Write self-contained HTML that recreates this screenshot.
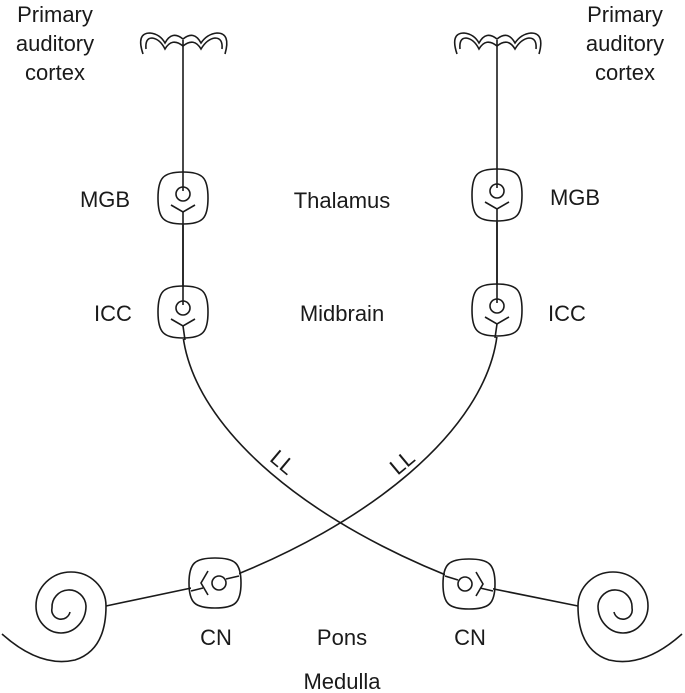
<!DOCTYPE html>
<html><head><meta charset="utf-8"><style>
html,body{margin:0;padding:0;background:#fff;}
svg{display:block;}
text{font-family:"Liberation Sans",sans-serif;font-size:22px;fill:#1a1a1a;}
</style></head><body>
<svg width="685" height="693" viewBox="0 0 685 693" xmlns="http://www.w3.org/2000/svg">
<defs>
<g id="cortex" fill="none" stroke="#1a1a1a" stroke-width="1.6">
<path d="M143,54 Q136,33 150,33 Q160,34 165,43 Q172,30 183,39 Q194,30 201,43 Q207,34 217,33 Q231,33 225,54"/>
<path d="M146,49 Q145,38 152,38 Q160,39 165,49 Q172,37 183,46 Q194,37 201,49 Q207,39 215,38 Q223,38 222,49"/>
</g>
<g id="node" fill="none" stroke="#1a1a1a" stroke-width="1.6">
<path d="M0,-26 C20,-26 25,-20 25,0 C25,20 20,26 0,26 C-20,26 -25,20 -25,0 C-25,-20 -20,-26 0,-26 Z"/>
<circle cx="0" cy="-4" r="7"/>
<path d="M-12,7 L0,14 L12,7"/>
</g>
<g id="cochlea" fill="none" stroke="#1a1a1a" stroke-width="1.6">
<path d="M106,606 A35,34 0 0 0 36,606 A25,27 0 0 0 86,606 A17,17 0 0 0 52,608 A9,9 0 0 0 70,612"/>
<path d="M2,634 Q40,668 75,660 Q106,650 106,606"/>
</g>
</defs>
<g stroke="#1a1a1a" stroke-width="1.6" fill="none">
<line x1="183" y1="40" x2="183" y2="312"/>
<line x1="497" y1="40" x2="497" y2="310"/>
<path d="M183,336 C195,430 310,525 469,584 L578,606"/>
<path d="M497,336 C485,430 370,525 215,583 L106,606"/>
</g>
<use href="#cortex"/>
<use href="#cortex" transform="translate(314,0)"/>
<rect x="158" y="173" width="50" height="52" fill="#fff"/>
<rect x="158" y="287" width="50" height="52" fill="#fff"/>
<rect x="472" y="170" width="50" height="52" fill="#fff"/>
<rect x="472" y="285" width="50" height="52" fill="#fff"/>
<line x1="183" y1="173" x2="183" y2="191" stroke="#1a1a1a" stroke-width="1.6"/>
<line x1="183" y1="212" x2="183" y2="287" stroke="#1a1a1a" stroke-width="1.6"/>
<line x1="183" y1="287" x2="183" y2="305" stroke="#1a1a1a" stroke-width="1.6"/>
<line x1="183" y1="326" x2="185" y2="340" stroke="#1a1a1a" stroke-width="1.6"/>
<line x1="497" y1="170" x2="497" y2="188" stroke="#1a1a1a" stroke-width="1.6"/>
<line x1="497" y1="209" x2="497" y2="285" stroke="#1a1a1a" stroke-width="1.6"/>
<line x1="497" y1="285" x2="497" y2="303" stroke="#1a1a1a" stroke-width="1.6"/>
<line x1="497" y1="324" x2="495" y2="338" stroke="#1a1a1a" stroke-width="1.6"/>
<use href="#node" transform="translate(183,198)"/>
<use href="#node" transform="translate(183,312)"/>
<use href="#node" transform="translate(497,195)"/>
<use href="#node" transform="translate(497,310)"/>
<rect x="191" y="558" width="48" height="50" fill="#fff"/>
<rect x="445" y="558" width="48" height="50" fill="#fff"/>
<line x1="191" y1="591" x2="203" y2="588" stroke="#1a1a1a" stroke-width="1.6"/>
<line x1="226" y1="579" x2="239" y2="576" stroke="#1a1a1a" stroke-width="1.6"/>
<line x1="445" y1="576" x2="458" y2="580" stroke="#1a1a1a" stroke-width="1.6"/>
<line x1="480" y1="588" x2="493" y2="591" stroke="#1a1a1a" stroke-width="1.6"/>
<use href="#node" transform="translate(215,583) rotate(90)"/>
<use href="#node" transform="translate(469,584) rotate(-90)"/>
<use href="#cochlea"/>
<use href="#cochlea" transform="translate(684,0) scale(-1,1)"/>
<g text-anchor="middle">
<text x="55" y="22">Primary</text><text x="55" y="51">auditory</text><text x="55" y="80">cortex</text>
<text x="625" y="22">Primary</text><text x="625" y="51">auditory</text><text x="625" y="80">cortex</text>
<text x="105" y="207">MGB</text><text x="342" y="208">Thalamus</text><text x="575" y="205">MGB</text>
<text x="113" y="321">ICC</text><text x="342" y="321">Midbrain</text><text x="567" y="321">ICC</text>
<text x="216" y="645">CN</text><text x="342" y="645">Pons</text><text x="470" y="645">CN</text>
<text x="342" y="689">Medulla</text>
<text x="0" y="0" transform="translate(278,468) rotate(40)">LL</text>
<text x="0" y="0" transform="translate(407,468) rotate(-40)">LL</text>
</g>
</svg>
</body></html>
